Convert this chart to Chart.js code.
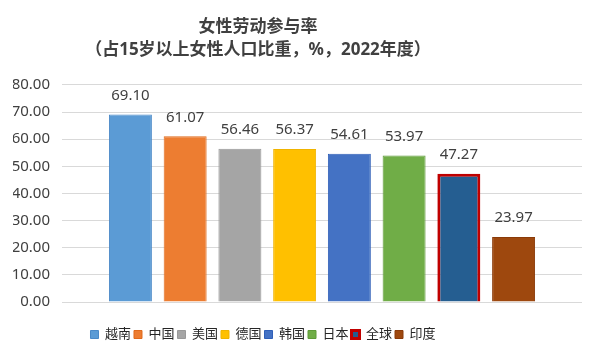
<!DOCTYPE html>
<html>
<head>
<meta charset="utf-8">
<script src="https://cdn.jsdelivr.net/npm/chart.js@4"></script>
<style>
  body { margin: 0; background: #fff; }
</style>
</head>
<body>
<canvas id="myChart" width="600" height="360"></canvas>
<script>
// data
const countries = ['越南', '中国', '美国', '德国', '韩国', '日本', '全球', '印度'];
const rates = [69.10, 61.07, 56.46, 56.37, 54.61, 53.97, 47.27, 23.97];
const yTicks = [0, 10, 20, 30, 40, 50, 60, 70, 80];
const titleLines = ['女性劳动参与率', '（占15岁以上女性人口比重，%，2022年度）'];

const barColors = ['#5B9BD5', '#ED7D31', '#A5A5A5', '#FFC000', '#4472C4', '#70AD47', '#255E91', '#9E480E'];
const borderColors = ['#4A89C8', '#E06A1C', '#989898', '#F0B400', '#2F5FB8', '#5E9A38', '#C00000', '#8A3A08'];
const borderWidths = [1, 1, 1, 1, 1, 1, 3, 1];

Chart.defaults.font.family = '"Noto Sans", "Noto Sans CJK SC", sans-serif';

// value labels above each bar
const valueLabels = {
    id: 'valueLabels',
    afterDatasetsDraw(chart) {
        const ctx = chart.ctx;
        const meta = chart.getDatasetMeta(0);
        ctx.save();
        ctx.font = '15px "Noto Sans", "Noto Sans CJK SC", sans-serif';
        ctx.fillStyle = '#404040';
        ctx.textAlign = 'center';
        ctx.textBaseline = 'middle';
        meta.data.forEach((bar, i) => {
            ctx.fillText(rates[i].toFixed(2), bar.x, bar.y - 19);
        });
        ctx.restore();
    }
};

// title and legend sit left of the canvas centre in the original
const moveBoxes = {
    id: 'moveBoxes',
    afterLayout(chart) {
        const t = chart.titleBlock;
        const dx = 258 - (t.left + t.right) / 2;
        t.left += dx;
        t.right += dx;
        const lg = chart.legend;
        const lx = 263 - (lg.left + lg.right) / 2;
        const ly = 325 - lg.top;
        lg.left += lx;
        lg.right += lx;
        lg.top += ly;
        lg.bottom += ly;
    }
};

const ctx = document.getElementById('myChart').getContext('2d');

const myChart = new Chart(ctx, {
    type: 'bar',
    data: {
        labels: countries,
        datasets: [{
            label: '女性劳动参与率',
            data: rates,
            backgroundColor: barColors,
            borderColor: borderColors,
            borderWidth: borderWidths,
            categoryPercentage: 1,
            barPercentage: 0.785
        }]
    },
    options: {
        responsive: false,
        animation: false,
        layout: { padding: { left: 13, right: 18, top: 0, bottom: 32 } },
        scales: {
            x: {
                display: false,
                // leave empty room at both ends like the original plot area
                afterBuildTicks: s => { s._startValue = -1.25; s._valueRange = 9.5; }
            },
            y: {
                min: yTicks[0],
                max: yTicks[yTicks.length - 1],
                afterBuildTicks: s => { s.ticks = yTicks.map(v => ({ value: v })); },
                afterFit: s => { s.width = 49; },
                ticks: {
                    padding: 12,
                    color: '#404040',
                    font: { size: 15 },
                    callback: v => Number(v).toFixed(2)
                },
                grid: { color: '#D9D9D9', drawTicks: false },
                border: { display: false }
            }
        },
        plugins: {
            title: {
                display: true,
                text: titleLines,
                color: '#404040',
                font: { size: 17, weight: 'bold', lineHeight: 1.35 },
                padding: { top: 15.5, bottom: 23.5 }
            },
            legend: {
                position: 'bottom',
                labels: {
                    boxWidth: 8,
                    boxHeight: 8,
                    padding: 3,
                    color: '#262626',
                    font: { size: 13 },
                    generateLabels: () => countries.map((c, i) => ({
                        text: c,
                        fillStyle: barColors[i],
                        strokeStyle: borderColors[i],
                        lineWidth: borderWidths[i],
                        fontColor: '#262626',
                        hidden: false,
                        index: i
                    }))
                }
            },
            tooltip: { enabled: false }
        }
    },
    plugins: [valueLabels, moveBoxes]
});
</script>
</body>
</html>
